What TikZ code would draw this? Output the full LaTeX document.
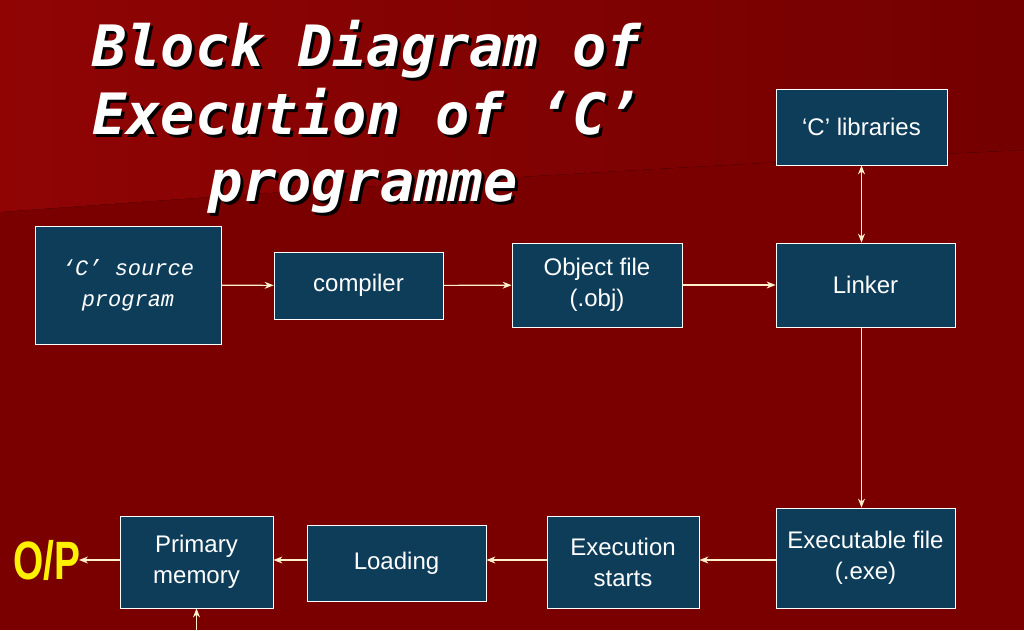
\documentclass[tikz,border=0pt]{standalone}
\usepackage{fontspec}
\setmainfont{Liberation Sans}
\newfontfamily\titlefont{DejaVu Sans Mono}
\newfontfamily\monofont{Liberation Mono}
\usetikzlibrary{arrows.meta}
\definecolor{bgdark}{HTML}{7A0000}
\definecolor{bglight}{HTML}{900404}
\definecolor{boxfill}{HTML}{0E3D5A}
\definecolor{arr}{HTML}{FFF0C8}
\tikzset{
  blk/.style={draw=white, line width=0.8pt, fill=boxfill, text=white, align=center, font=\fontsize{24}{31}\selectfont, inner sep=0pt},
  conn/.style={draw=arr, line width=1.1pt, -{Stealth[length=9pt,width=7pt]}},
  bconn/.style={draw=arr, line width=1.1pt, {Stealth[length=9pt,width=7pt]}-{Stealth[length=9pt,width=7pt]}},
  ttl/.style={text=white, font=\titlefont\bfseries\itshape\fontsize{57}{60}\selectfont, anchor=base west, inner sep=0pt}
}
\begin{document}
\begin{tikzpicture}[x=1pt,y=-1pt]
\useasboundingbox (0,0) rectangle (1024,630);
\fill[bgdark] (0,0) rectangle (1024,630);
\fill[left color=bglight, right color=bgdark!95!black] (0,0) -- (1024,0) -- (1024,150) .. controls (600,170) and (300,190) .. (0,212) -- cycle;
% title
\foreach \dx/\col in {3/black, 0/white}{
  \node[ttl, text=\col] at (92+\dx,66+\dx) {Block Diagram of};
  \node[ttl, text=\col] at (92+\dx,134+\dx) {Execution of ‘C’};
  \node[ttl, text=\col, anchor=base] at (363+\dx,201+\dx) {programme};
}
% boxes
\node[blk, minimum width=186, minimum height=118, font=\monofont\itshape\fontsize{22}{31}\selectfont] (src) at (128,285) {‘C’ source\\program};
\node[blk, minimum width=169, minimum height=67] (comp) at (358.5,285.5) {compiler};
\node[blk, minimum width=170, minimum height=84] (obj) at (597,285) {Object file\\(.obj)};
\node[blk, minimum width=179, minimum height=84] (link) at (865.5,285) {Linker};
\node[blk, minimum width=171, minimum height=76] (lib) at (861.5,127) {‘C’ libraries};
\node[blk, minimum width=179, minimum height=100] (exe) at (865.5,558) {Executable file\\(.exe)};
\node[blk, minimum width=152, minimum height=92] (exec) at (623,562) {Execution\\starts};
\node[blk, minimum width=179, minimum height=76] (load) at (396.5,563) {Loading};
\node[blk, minimum width=153, minimum height=92] (prim) at (196.5,562) {Primary\\memory};
\node[text=yellow, font=\bfseries\fontsize{54}{58}\selectfont, inner sep=0pt, xscale=0.72] (op) at (47,560) {O/P};
\coordinate (bot) at (196.5,630);
% connectors
\draw[conn] (src) -- (comp);
\draw[conn] (comp) -- (obj);
\draw[conn] (obj) -- (link);
\draw[bconn] (lib.south -| 861.5,0) -- (link.north -| 861.5,0);
\draw[conn] (link.south -| 861.5,0) -- (exe.north -| 861.5,0);
\draw[conn] (exe.west |- 0,560) -- (exec.east |- 0,560);
\draw[conn] (exec.west |- 0,560) -- (load.east |- 0,560);
\draw[conn] (load.west |- 0,560) -- (prim.east |- 0,560);
\draw[conn] (prim.west |- 0,560) -- (79,560);
\draw[conn] (bot) -- (prim.south);
\end{tikzpicture}
\end{document}
